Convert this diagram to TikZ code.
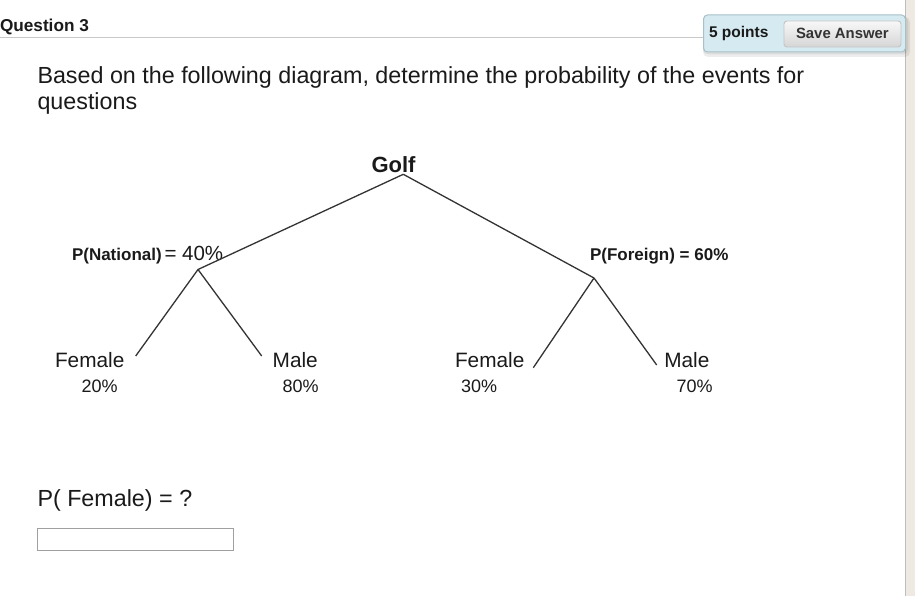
\documentclass[tikz,border=0pt]{standalone}
\usepackage{fontspec}
\setmainfont{Liberation Sans}
\usetikzlibrary{calc}
\definecolor{hdrline}{HTML}{C8C8C8}
\definecolor{boxfill}{HTML}{D5EAF1}
\definecolor{boxdraw}{HTML}{A8C0C8}
\definecolor{btnfill}{HTML}{EDEDED}
\definecolor{btndraw}{HTML}{C4C4C4}
\definecolor{scroll}{HTML}{EEEAE3}
\definecolor{scrollline}{HTML}{BDBDBD}
\definecolor{treeline}{HTML}{333333}
\definecolor{txt}{HTML}{1A1A1A}
\definecolor{fieldline}{HTML}{A0A0A0}
\tikzset{
  lbl/.style={anchor=base west, inner sep=0pt, outer sep=0pt, text=txt},
  branch/.style={draw=treeline, line width=1.3pt},
  big/.style={font=\fontsize{23.3}{26}\selectfont},
  leaf/.style={font=\fontsize{20.8}{24}\selectfont},
  pct/.style={font=\fontsize{18}{22}\selectfont},
  boldlbl/.style={font=\bfseries\fontsize{17}{20}\selectfont},
}
\begin{document}
\begin{tikzpicture}[x=1pt,y=-1pt]
\useasboundingbox (0,0) rectangle (915,596);
\fill[white] (0,0) rectangle (915,596);
% scrollbar
\fill[scroll] (905,0) rectangle (915,596);
\draw[scrollline, line width=1pt] (905.5,0) -- (905.5,596);
% header
\draw[hdrline, line width=1pt] (0,37.5) -- (703,37.5);
\node[lbl, font=\bfseries\fontsize{17.2}{20}\selectfont] (q3) at (0,32) {Question 3};
% points box with shadow
\fill[black, opacity=0.07, rounded corners=5pt] (703,17) rectangle (910,57);
\fill[black, opacity=0.07, rounded corners=5pt] (703,16) rectangle (908,54.5);
\draw[boxdraw, fill=boxfill, line width=1pt, rounded corners=4pt] (703.5,15) rectangle (905.5,52);
\node[lbl, font=\bfseries\fontsize{15.5}{18}\selectfont] (pts) at (709,37.3) {5 points};
\shade[top color=white!60!btnfill, bottom color=btnfill!90!black, rounded corners=3pt] (784,21) rectangle (901,47);
\draw[btndraw, line width=0.9pt, rounded corners=3pt] (784,21) rectangle (901,47);
\node[lbl, text={rgb,255:red,51;green,51;blue,51}, font=\bfseries\fontsize{14.9}{18}\selectfont] (save) at (796,38.3) {Save Answer};
% question text
\node[lbl, big] (t1) at (37.5,84) {Based on the following diagram, determine the probability of the events for};
\node[lbl, big] (t2) at (37.5,110) {questions};
% tree
\node[lbl, font=\bfseries\fontsize{22}{24}\selectfont] (golf) at (371.5,172.3) {Golf};
\coordinate (g) at (403.3,174.3);
\coordinate (nat) at (198,269.5);
\coordinate (for) at (594,278);
\coordinate (lf) at (135.7,356);
\coordinate (lm) at (261.7,356);
\coordinate (rf) at (533.3,367.7);
\coordinate (rm) at (656.7,365);
\node[lbl, boldlbl] (natlbl) at (72,260.3) {P(National)};
\node[lbl, font=\fontsize{20.5}{24}\selectfont] (natval) at (164.5,260.3) {= 40\%};
\node[lbl, boldlbl] (forlbl) at (590,260.7) {P(Foreign) = 60\%};
\draw[branch] (g) -- (nat);
\draw[branch] (g) -- (for);
\draw[branch] (nat) -- (lf);
\draw[branch] (nat) -- (lm);
\draw[branch] (for) -- (rf);
\draw[branch] (for) -- (rm);
\node[lbl, leaf] (f1) at (55,367.7) {Female};
\node[lbl, pct] (p1) at (81.7,392.3) {20\%};
\node[lbl, leaf] (m1) at (272.7,367.7) {Male};
\node[lbl, pct] (p2) at (282.7,392.3) {80\%};
\node[lbl, leaf] (f2) at (455,367.7) {Female};
\node[lbl, pct] (p3) at (461,392.3) {30\%};
\node[lbl, leaf] (m2) at (664.3,367.7) {Male};
\node[lbl, pct] (p4) at (676.7,392.3) {70\%};
% answer
\node[lbl, big] (ans) at (37.5,506.7) {P( Female) = ?};
\draw[fieldline, line width=1pt, fill=white] (37.5,528.5) rectangle (233.3,550.5);
\end{tikzpicture}
\end{document}
